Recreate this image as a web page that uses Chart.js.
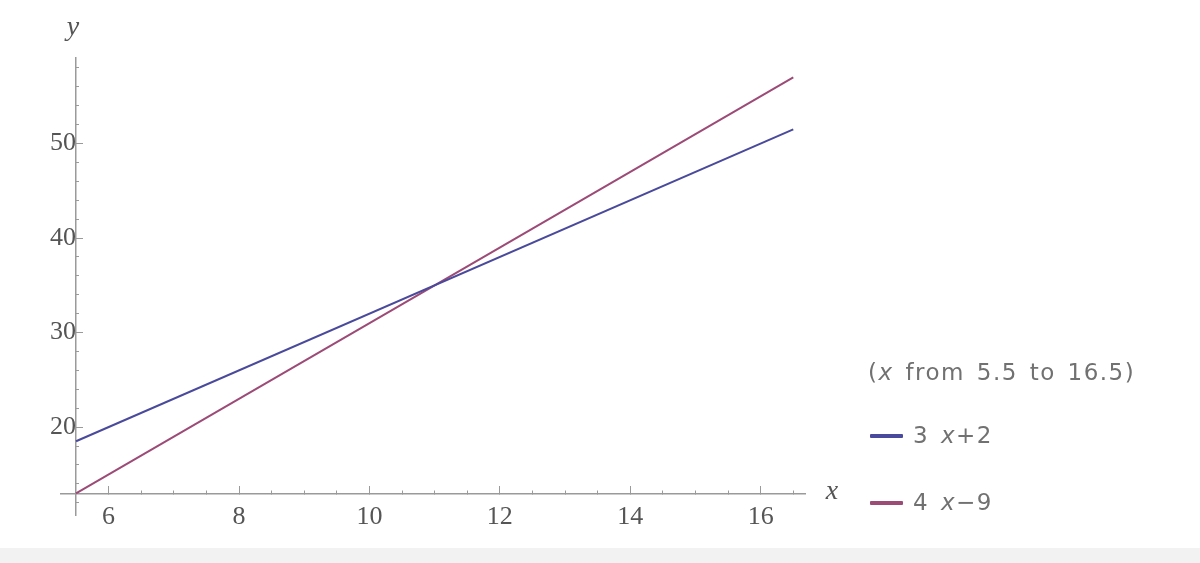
<!DOCTYPE html>
<html>
<head>
<meta charset="utf-8">
<script src="https://cdn.jsdelivr.net/npm/chart.js@4/dist/chart.umd.min.js"></script>
<style>
  html, body { margin: 0; padding: 0; background: #fff; }
  #wrap { position: relative; width: 1200px; height: 563px; overflow: hidden; }
  #c { position: absolute; left: 0; top: 0; }
  #band { position: absolute; left: 0; top: 548px; width: 1200px; height: 15px; background: #f2f2f2; }
  #legend { position: absolute; left: 868px; top: 354px; font-family: "DejaVu Sans", sans-serif; font-size: 23px; color: #717171; letter-spacing: 1.5px; word-spacing: 3px; }
  #legend .title { white-space: nowrap; height: 36px; line-height: 36px; }
  #legend .item { position: absolute; left: 2px; white-space: nowrap; line-height: 30px; }
  #legend .sw { display: inline-block; width: 33px; height: 4px; vertical-align: middle; margin-right: 10px; position: relative; top: -1px; border-radius: 1px; }
  #legend i { font-style: italic; }
</style>
</head>
<body>
<div id="wrap">
  <canvas id="c" width="1200" height="563"></canvas>
  <div id="band"></div>
  <div id="legend"></div>
</div>
<script>
// ---- data ----
const xValues = [5.5, 16.5];
const line1Values = [18.5, 51.5];   // 3x+2
const line2Values = [13, 57];       // 4x-9
const seriesLabels = ["3 x+2", "4 x\u22129"];
const seriesLabelHtml = ['3 <i>x</i>+2', '4 <i>x</i>\u22129'];
const legendTitleHtml = '(<i>x</i> from 5.5 to 16.5)';
const xMajorTicks = [6, 8, 10, 12, 14, 16];
const yMajorTicks = [20, 30, 40, 50];
const axisNames = ["x", "y"];

const colors = ["#4a4a9c", "#9c4a76"];
const axisColor = "#9a9a9a";
const labelColor = "#555555";
const tickFont = { family: "'Liberation Serif', 'DejaVu Serif', serif", size: 26 };

const toPoints = (ys) => xValues.map((x, i) => ({ x: x, y: ys[i] }));

const axisTitles = {
  id: 'axisTitles',
  afterDraw(chart) {
    const { ctx, scales } = chart;
    const xs = scales.x, ys = scales.y;
    ctx.save();
    ctx.fillStyle = labelColor;
    ctx.font = "italic 28px 'Liberation Serif', 'DejaVu Serif', serif";
    ctx.textAlign = 'center';
    ctx.textBaseline = 'middle';
    ctx.fillText(axisNames[0], xs.right + 27, ys.getPixelForValue(13) - 2);
    ctx.fillText(axisNames[1], xs.getPixelForValue(5.5) - 3, ys.top - 30);
    ctx.restore();
  }
};

new Chart(document.getElementById('c'), {
  type: 'line',
  data: {
    datasets: [
      { label: seriesLabels[0], data: toPoints(line1Values), borderColor: colors[0], borderWidth: 2, pointRadius: 0, fill: false, xAxisID: 'x', yAxisID: 'y' },
      { label: seriesLabels[1], data: toPoints(line2Values), borderColor: colors[1], borderWidth: 2, pointRadius: 0, fill: false, xAxisID: 'x', yAxisID: 'y' }
    ]
  },
  options: {
    responsive: false,
    animation: false,
    devicePixelRatio: 1,
    layout: { padding: { left: 61, right: 395, top: 58, bottom: 48 } },
    plugins: { legend: { display: false }, tooltip: { enabled: false } },
    scales: {
      x: {
        type: 'linear', axis: 'x', min: 5.27, max: 16.68, position: { y: 13 },
        border: { display: true, color: axisColor, width: 1.5 },
        grid: { drawOnChartArea: false, drawTicks: true, tickLength: -4, color: axisColor, lineWidth: 1 },
        ticks: { stepSize: 0.5, includeBounds: false, display: false }
      },
      x2: {
        type: 'linear', axis: 'x', min: 5.27, max: 16.68, position: { y: 13 },
        border: { display: false },
        grid: { drawOnChartArea: false, drawTicks: true, tickLength: -7, color: axisColor, lineWidth: 1 },
        ticks: { stepSize: 2, includeBounds: false, autoSkip: false, maxRotation: 0, padding: 15, color: labelColor, font: tickFont,
                 callback: (v) => xMajorTicks.includes(v) ? String(v) : '' }
      },
      y: {
        type: 'linear', axis: 'y', min: 10.7, max: 59.05, position: { x: 5.5 },
        border: { display: true, color: axisColor, width: 1.5 },
        grid: { drawOnChartArea: false, drawTicks: true, tickLength: -4, color: axisColor, lineWidth: 1 },
        ticks: { stepSize: 2, includeBounds: false, display: false }
      },
      y2: {
        type: 'linear', axis: 'y', min: 10.7, max: 59.05, position: { x: 5.5 },
        border: { display: false },
        grid: { drawOnChartArea: false, drawTicks: true, tickLength: -7, color: axisColor, lineWidth: 1 },
        ticks: { stepSize: 10, includeBounds: false, autoSkip: false, padding: 17, color: labelColor, font: tickFont,
                 callback: (v) => yMajorTicks.includes(v) ? String(v) : '' }
      }
    }
  },
  plugins: [axisTitles]
});

// legend (HTML, real text)
const lg = document.getElementById('legend');
let html = '<div class="title">' + legendTitleHtml + '</div>';
const tops = [66, 133];
seriesLabelHtml.forEach((t, i) => {
  html += '<div class="item" style="top:' + tops[i] + 'px"><span class="sw" style="background:' + colors[i] + '"></span>' + t + '</div>';
});
lg.innerHTML = html;
</script>
</body>
</html>
